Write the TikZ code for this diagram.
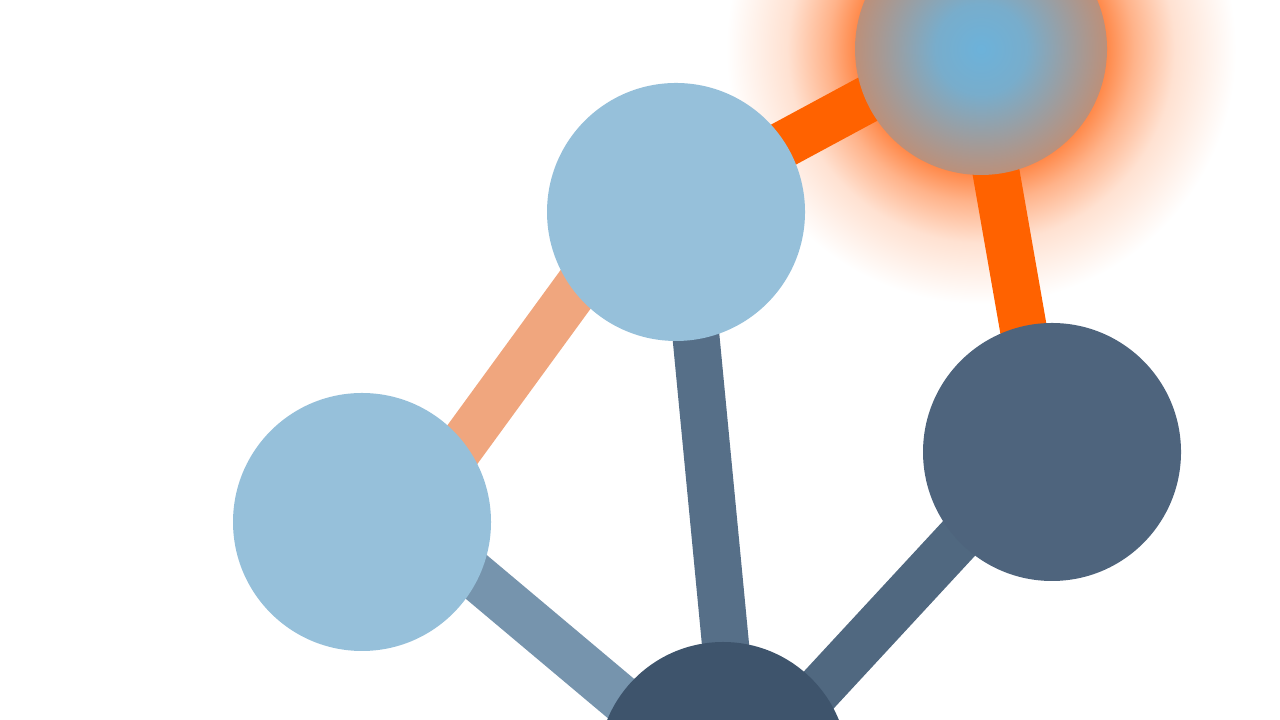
\documentclass[tikz,border=0pt]{standalone}
\usetikzlibrary{backgrounds}

\definecolor{paleball}{RGB}{150,192,218}
\definecolor{slateball}{RGB}{78,100,125}
\definecolor{deepball}{RGB}{62,84,108}
\definecolor{hotcore}{RGB}{108,178,218}
\definecolor{hotrim}{RGB}{188,144,122}
\definecolor{glow}{RGB}{255,132,66}
\definecolor{hotlink}{RGB}{255,98,0}
\definecolor{warmlink}{RGB}{240,166,126}
\definecolor{steellink}{RGB}{86,111,136}
\definecolor{greylink}{RGB}{118,148,173}
\definecolor{darklink}{RGB}{80,104,128}

\pgfdeclareradialshading{glowshade}{\pgfpoint{0bp}{0bp}}{color(0bp)=(glow); color(12bp)=(glow); color(15bp)=(glow!62!white); color(19bp)=(glow!24!white); color(25bp)=(white); color(50bp)=(white)}
\pgfdeclareradialshading{hotshade}{\pgfpoint{0bp}{0bp}}{color(0bp)=(hotcore); color(9bp)=(hotcore!85!hotrim); color(25bp)=(hotrim); color(50bp)=(hotrim)}

\tikzset{
  ball/.style={circle, minimum size=2.58cm, inner sep=0pt},
  link/.style={line width=0.47cm, shorten <=-0.25cm, shorten >=-0.25cm}
}

\begin{document}
\begin{tikzpicture}
            \clip (0,0) rectangle (12.8,7.2);
            \node[ball, fill=paleball] (left) at (3.62,1.98) {};
            \node[ball, fill=paleball] (mid) at (6.76,5.08) {};
            \node[ball, minimum size=2.52cm, shading=hotshade] (hot) at (9.81,6.71) {};
            \node[ball, fill=slateball] (right) at (10.52,2.68) {};
            \node[ball, minimum size=2.5cm, fill=deepball] (base) at (7.23,-0.47) {};
            \begin{pgfonlayer}{background}
                \shade[shading=glowshade] (hot.center) circle (2.55);
                \draw[link, warmlink] (left.38) -- (mid.218);
                \draw[link, hotlink] (mid.32) -- (hot.204);
                \draw[link, hotlink] (hot.-83) -- (right.103);
                \draw[link, steellink] (mid.-81) -- (base.89);
                \draw[link, greylink] (left.-26) -- (base.146);
                \draw[link, darklink] (right.-137) -- (base.39);
            \end{pgfonlayer}
        \end{tikzpicture}
\end{document}
